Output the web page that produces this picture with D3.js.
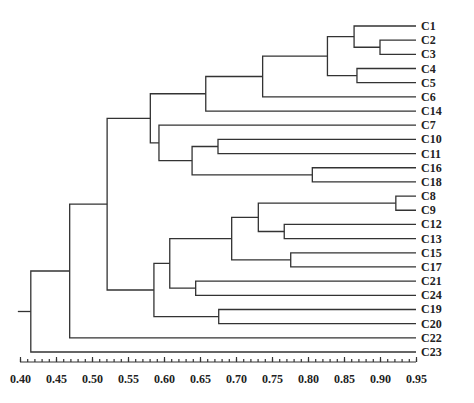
<!DOCTYPE html>
<html><head><meta charset="utf-8">
<script src="https://cdn.jsdelivr.net/npm/d3@7"></script>
<style>body{margin:0;background:#fff}</style>
</head><body>
<svg id="chart" width="474" height="403"></svg>
<script>
// Leaf order top to bottom
const leaves = ['C1','C2','C3','C4','C5','C6','C14','C7','C10','C11','C16','C18',
  'C8','C9','C12','C13','C15','C17','C21','C24','C19','C20','C22','C23'];
// Merges: [name, childA, childB, similarity]
const merges = [
  ['n1','C2','C3',0.900],
  ['n2','C1','n1',0.864],
  ['n3','C4','C5',0.868],
  ['n4','n2','n3',0.827],
  ['n5','n4','C6',0.737],
  ['n6','n5','C14',0.658],
  ['n7','C10','C11',0.675],
  ['n8','C16','C18',0.806],
  ['n9','n7','n8',0.639],
  ['n10','C7','n9',0.593],
  ['n11','n6','n10',0.581],
  ['n12','C8','C9',0.922],
  ['n13','C12','C13',0.767],
  ['n14','n12','n13',0.731],
  ['n15','C15','C17',0.776],
  ['n16','n14','n15',0.694],
  ['n17','C21','C24',0.644],
  ['n18','n16','n17',0.608],
  ['n19','C19','C20',0.676],
  ['n20','n18','n19',0.586],
  ['n21','n11','n20',0.521],
  ['n22','n21','C22',0.469],
  ['n23','n22','C23',0.415]
];
const tickValues = d3.range(0.40, 0.951, 0.05);
const rootStart = 0.397;

const svg = d3.select('#chart');
const x = d3.scaleLinear().domain([0.40, 0.95]).range([20, 416]);
const y = d3.scalePoint().domain(leaves).range([26, 352]);

const pos = {};
leaves.forEach(l => { pos[l] = { x: x(0.95), y: y(l) }; });
const g = svg.append('g').attr('fill', 'none').attr('stroke', '#333').attr('stroke-width', 1.3);
merges.forEach(([id, a, b, h]) => {
  const nx = x(h);
  const pa = pos[a], pb = pos[b];
  g.append('path').attr('d', `M${pa.x},${pa.y}H${nx}V${pb.y}H${pb.x}`);
  pos[id] = { x: nx, y: (pa.y + pb.y) / 2 };
});
const root = pos['n23'];
g.append('path').attr('d', `M${x(rootStart)},${root.y}H${root.x}`);

svg.append('g').selectAll('text').data(leaves).join('text')
  .attr('x', 421).attr('y', d => y(d) + 4)
  .style('font-family', 'Liberation Serif, serif').style('font-size', '12px')
  .style('font-weight', 'bold').attr('fill', '#222')
  .text(d => d);

const axisY = 362;
const ax = svg.append('g').attr('transform', `translate(0,${axisY})`);
ax.call(d3.axisBottom(x).tickValues(d3.range(0.40, 0.951, 0.01)).tickSize(3).tickFormat(''));
ax.append('g').call(d3.axisBottom(x).tickValues(tickValues).tickSize(5).tickFormat(d3.format('.2f')))
  .call(s => s.select('.domain').remove());
ax.selectAll('.domain').attr('d', `M${x(0.40)},0H${x(0.95)}`);
ax.selectAll('path,line').attr('stroke', '#333').attr('stroke-width', 1.2);
ax.selectAll('text').attr('dy', '1.1em')
  .style('font-family', 'Liberation Serif, serif').style('font-size', '12px')
  .style('font-weight', 'bold').attr('fill', '#222');
// ticks point down from the axis line
ax.selectAll('.tick line').attr('y1', -0).attr('y2', function() { return -(+d3.select(this).attr('y2')); });
</script>
</body></html>
